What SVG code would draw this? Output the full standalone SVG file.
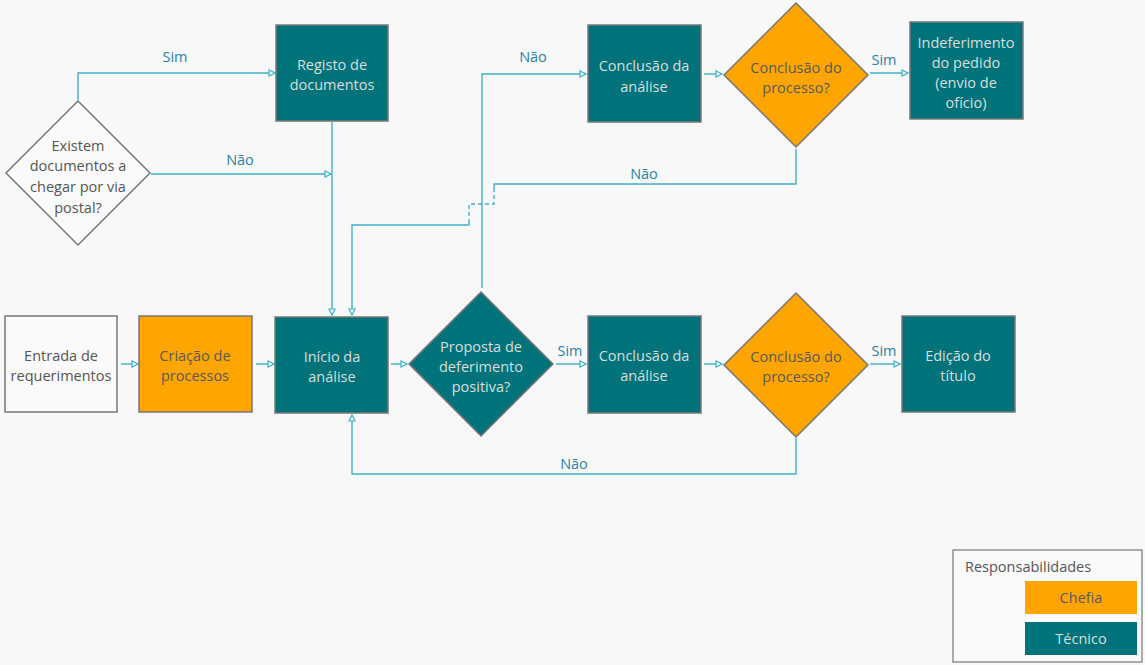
<svg xmlns="http://www.w3.org/2000/svg" width="1145" height="665" viewBox="0 0 1145 665">
<style>
text{font-family:"Open Sans","Liberation Sans",sans-serif;font-size:14.5px;text-anchor:middle}
.node{stroke:#777;stroke-width:1.5}
.w{fill:#fafafa}
.o{fill:#ffa500}
.t{fill:#00737a}
.tw{fill:#555}
.tt{fill:#d8dede}
.to{fill:#5a5a5a}
.lbl{fill:#2b82a3}
.c{fill:none;stroke:#3fb1c9;stroke-width:1.4}
.d{fill:none;stroke:#3fb1c9;stroke-width:1.4;stroke-dasharray:4,3}
</style>
<defs>
<marker id="ah" viewBox="0 0 8 8" refX="7" refY="4" markerWidth="8" markerHeight="8" markerUnits="userSpaceOnUse" orient="auto">
<path d="M1,1 L7,4 L1,7 z" fill="#f8f8f8" stroke="#3fb1c9" stroke-width="1.2"/>
</marker>
</defs>
<rect x="0" y="0" width="1145" height="665" fill="#f8f8f8"/>

<g id="connectors">
<path class="c" d="M78,100 V73 H275" marker-end="url(#ah)"/>
<path class="c" d="M151,174 H331" marker-end="url(#ah)"/>
<path class="c" d="M332,122 V315" marker-end="url(#ah)"/>
<path class="c" d="M121,364 H138" marker-end="url(#ah)"/>
<path class="c" d="M256,364 H274" marker-end="url(#ah)"/>
<path class="c" d="M391,364 H407" marker-end="url(#ah)"/>
<path class="c" d="M556,364 H586" marker-end="url(#ah)"/>
<path class="c" d="M704,364 H722" marker-end="url(#ah)"/>
<path class="c" d="M870,364 H900" marker-end="url(#ah)"/>
<path class="c" d="M796,438 V474 H352 V415" marker-end="url(#ah)"/>
<path class="c" d="M482,288 V74 H586" marker-end="url(#ah)"/>
<path class="c" d="M704,74 H722" marker-end="url(#ah)"/>
<path class="c" d="M870,73 H908" marker-end="url(#ah)"/>
<path class="c" d="M796,149 V184 H494 V188"/>
<path class="d" d="M494,188 V204 H469 V221"/>
<path class="c" d="M469,221 V225 H352 V315" marker-end="url(#ah)"/>
<text class="lbl" x="175" y="62">Sim</text>
<text class="lbl" x="240" y="165">Não</text>
<text class="lbl" x="533" y="62">Não</text>
<text class="lbl" x="884" y="65">Sim</text>
<text class="lbl" x="644" y="179">Não</text>
<text class="lbl" x="570" y="356">Sim</text>
<text class="lbl" x="884" y="356">Sim</text>
<text class="lbl" x="574" y="469">Não</text>
</g>

<g id="n-existem">
<polygon class="node w" points="78,101 150,173 78,245 6,173"/>
<text class="tw" x="78" y="151">Existem</text>
<text class="tw" x="78" y="171">documentos a</text>
<text class="tw" x="78" y="192">chegar por via</text>
<text class="tw" x="78" y="213">postal?</text>
</g>
<g id="n-registo">
<rect class="node t" x="276" y="25" width="112" height="96"/>
<text class="tt" x="332" y="70">Registo de</text>
<text class="tt" x="332" y="90">documentos</text>
</g>
<g id="n-entrada">
<rect class="node w" x="5" y="316" width="112" height="96"/>
<text class="tw" x="61" y="361">Entrada de</text>
<text class="tw" x="61" y="381">requerimentos</text>
</g>
<g id="n-criacao">
<rect class="node o" x="139" y="316" width="113" height="96"/>
<text class="to" x="195" y="361">Criação de</text>
<text class="to" x="195" y="381">processos</text>
</g>
<g id="n-inicio">
<rect class="node t" x="275" y="317" width="113" height="96"/>
<text class="tt" x="332" y="362">Início da</text>
<text class="tt" x="332" y="382">análise</text>
</g>
<g id="n-proposta">
<polygon class="node t" points="481,292 553,364 481,436 409,364"/>
<text class="tt" x="481" y="352">Proposta de</text>
<text class="tt" x="481" y="372">deferimento</text>
<text class="tt" x="481" y="392">positiva?</text>
</g>
<g id="n-conclusao-analise-2">
<rect class="node t" x="588" y="316" width="113" height="97"/>
<text class="tt" x="644" y="361">Conclusão da</text>
<text class="tt" x="644" y="381">análise</text>
</g>
<g id="n-conclusao-processo-2">
<polygon class="node o" points="796,293 868,365 796,437 724,365"/>
<text class="to" x="796" y="362">Conclusão do</text>
<text class="to" x="796" y="382">processo?</text>
</g>
<g id="n-edicao">
<rect class="node t" x="902" y="316" width="113" height="96"/>
<text class="tt" x="958" y="361">Edição do</text>
<text class="tt" x="958" y="381">título</text>
</g>
<g id="n-conclusao-analise-1">
<rect class="node t" x="588" y="25" width="113" height="97"/>
<text class="tt" x="644" y="71">Conclusão da</text>
<text class="tt" x="644" y="92">análise</text>
</g>
<g id="n-conclusao-processo-1">
<polygon class="node o" points="796,3 868,75 796,147 724,75"/>
<text class="to" x="796" y="73">Conclusão do</text>
<text class="to" x="796" y="93">processo?</text>
</g>
<g id="n-indeferimento">
<rect class="node t" x="910" y="22" width="113" height="97"/>
<text class="tt" x="966" y="48">Indeferimento</text>
<text class="tt" x="966" y="68">do pedido</text>
<text class="tt" x="966" y="88">(envio de</text>
<text class="tt" x="966" y="108">ofício)</text>
</g>
<g id="legend">
<rect x="953" y="550" width="189" height="112" fill="#fafafa" stroke="#777" stroke-width="1.2"/>
<text class="tw" x="965" y="572" style="text-anchor:start">Responsabilidades</text>
<rect x="1025" y="581" width="112" height="33" fill="#ffa500"/>
<text class="to" x="1081" y="603">Chefia</text>
<rect x="1025" y="622" width="112" height="33" fill="#00737a"/>
<text class="tt" x="1081" y="644">Técnico</text>
</g>
</svg>
